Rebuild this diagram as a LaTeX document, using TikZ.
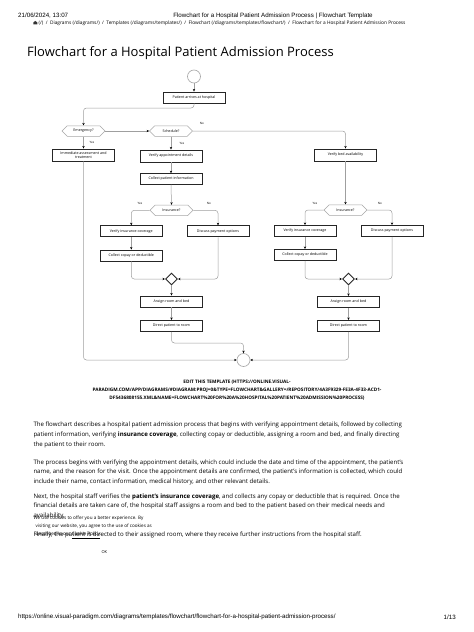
\documentclass[tikz,border=0pt]{standalone}
\usepackage{fontspec}
\setmainfont{Open Sans}
\newfontfamily\arialf{Liberation Sans}
\usetikzlibrary{shapes.symbols,shapes.geometric,arrows.meta,calc}
\begin{document}
\begin{tikzpicture}[x=1pt,y=-1pt,
  box/.style={draw=black!85, line width=0.9pt, fill=white, minimum width=62pt, minimum height=11pt, inner sep=0pt, font=\fontsize{3.6}{4.2}\selectfont, align=center},
  hex/.style={signal, signal to=west and east, signal pointer angle=90, draw=gray!70, line width=0.5pt, fill=white, minimum width=43pt, minimum height=10.5pt, inner sep=0pt, font=\fontsize{3.6}{4.2}\selectfont},
  term/.style={circle, draw=gray!70, line width=0.6pt, fill=white, minimum size=13pt, inner sep=0pt},
  merge/.style={diamond, draw=black!85, line width=0.9pt, fill=white, minimum size=12pt, inner sep=0pt},
  conn/.style={draw=gray!75, line width=0.5pt, rounded corners=3pt, -{Stealth[length=2.6pt,width=2.3pt,black]}},
  lab/.style={font=\fontsize{3}{3.5}\selectfont, inner sep=0pt},
  hdr/.style={font=\arialf\fontsize{6.2}{7}\selectfont, inner sep=0pt},
  para/.style={font=\fontsize{6.1}{7}\selectfont, inner sep=0pt, anchor=west},
  edit/.style={font=\bfseries\fontsize{4.7}{5.3}\selectfont, inner sep=0pt},
  cookie/.style={font=\fontsize{4.6}{5}\selectfont, inner sep=0pt, anchor=west}
]
\useasboundingbox (0,0) rectangle (474,632);
\fill[white] (0,0) rectangle (474,632);

% header
\node[hdr, anchor=west] (date) at (18,16) {21/06/2024, 13:07};
\node[hdr] (ptitle) at (273,16) {Flowchart for a Hospital Patient Admission Process | Flowchart Template};
\fill[black!80] (33.3,24.4) -- (33.3,22.5) -- (35.3,20.9) -- (37.3,22.5) -- (37.3,24.4) -- cycle;
\node[font=\fontsize{4.8}{5.5}\selectfont, inner sep=0pt, anchor=west] (crumb) at (38.5,23.5) {(/) \ / \ Diagrams (/diagrams/) \ / \ Templates (/diagrams/templates/) \ / \ Flowchart (/diagrams/templates/flowchart/) \ / \ Flowchart for a Hospital Patient Admission Process};
\node[font=\fontsize{13}{15}\selectfont, inner sep=0pt, anchor=west] (title) at (27,53.5) {Flowchart for a Hospital Patient Admission Process};

% flowchart nodes
\node[term] (start) at (194,76.5) {};
\node[box] (arrive) at (194,97.5) {Patient arrives at hospital};
\node[hex] (emerg) at (83.5,131) {Emergency?};
\node[hex] (sched) at (171,131) {Schedule?};
\node[box, minimum height=12pt] (immed) at (83.5,155) {Immediate assessment and\\treatment};
\node[box, minimum height=12pt] (appt) at (171,156) {Verify appointment details};
\node[box, minimum height=10.5pt] (collect) at (171,179) {Collect patient information};
\node[hex] (insA) at (171.5,210.3) {Insurance?};
\node[box] (vinsA) at (131.3,231.3) {Verify insurance coverage};
\node[box] (discA) at (218,231.3) {Discuss payment options};
\node[box] (copayA) at (131.3,255.5) {Collect copay or deductible};
\node[merge] (diaA) at (171.5,279) {};
\node[box] (assignA) at (171.5,301.5) {Assign room and bed};
\node[box] (directA) at (171.5,326) {Direct patient to room};

\node[box, minimum height=12pt] (bed) at (345.5,155) {Verify bed availability};
\node[hex] (insB) at (345.5,210) {Insurance?};
\node[box] (vinsB) at (305,231) {Verify insurance coverage};
\node[box] (discB) at (392,231) {Discuss payment options};
\node[box] (copayB) at (305,255) {Collect copay or deductible};
\node[merge] (diaB) at (348.5,279) {};
\node[box] (assignB) at (348.5,302) {Assign room and bed};
\node[box] (directB) at (348.5,326) {Direct patient to room};

\node[term] (endc) at (243.5,360) {};

% connectors
\coordinate (k1) at (194,108);
\coordinate (k2) at (171.5,343);
\draw[conn] (start) -- (arrive);
\draw[conn] (arrive.south) -- (k1) -| (emerg.north);
\draw[conn] (emerg.east) -- (sched.west);
\draw[conn] (sched.east) -| (bed.north);
\draw[conn] (emerg.south) -- (immed.north);
\draw[conn] (sched.south) -- (appt.north);
\draw[conn] (appt) -- (collect);
\draw[conn] (collect.south) -- (insA.north);
\draw[conn] (insA.west) -| (vinsA.north);
\draw[conn] (insA.east) -| (discA.north);
\draw[conn] (vinsA) -- (copayA);
\draw[conn] (copayA.south) |- (diaA.west);
\draw[conn] (discA.south) |- (diaA.east);
\draw[conn] (diaA) -- (assignA);
\draw[conn] (assignA) -- (directA);
\draw[conn] (directA.south) -- (k2) -| (endc.north);
\draw[conn] (immed.south) |- (endc.west);

\draw[conn] (bed.south) -- (insB.north);
\draw[conn] (insB.west) -| (vinsB.north);
\draw[conn] (insB.east) -| (discB.north);
\draw[conn] (vinsB) -- (copayB);
\draw[conn] (copayB.south) |- (diaB.west);
\draw[conn] (discB.south) |- (diaB.east);
\draw[conn] (diaB) -- (assignB);
\draw[conn] (assignB) -- (directB);
\draw[conn] (directB.south) |- (endc.east);

% labels
\node[lab] (l1) at (92,142) {Yes};
\node[lab] (l2) at (202,123) {No};
\node[lab] (l3) at (182,143) {Yes};
\node[lab] (l4) at (140,203) {Yes};
\node[lab] (l5) at (209,203) {No};
\node[lab] (l6) at (315,203) {Yes};
\node[lab] (l7) at (380,203) {No};

% edit link
\node[edit] (e1) at (237,382) {EDIT THIS TEMPLATE (HTTPS://ONLINE.VISUAL-};
\node[edit] (e2) at (237,390) {PARADIGM.COM/APP/DIAGRAMS/\#DIAGRAM:PROJ=0\&TYPE=FLOWCHART\&GALLERY=/REPOSITORY/4A3F9329-FE3A-4F33-ACD1-};
\node[edit] (e3) at (237,398) {DF5436808155.XML\&NAME=FLOWCHART\%20FOR\%20A\%20HOSPITAL\%20PATIENT\%20ADMISSION\%20PROCESS)};

% paragraphs
\node[para] (p11) at (33.3,424.5) {The flowchart describes a hospital patient admission process that begins with verifying appointment details, followed by collecting};
\node[para] (p12) at (33.3,435) {patient information, verifying \textbf{insurance coverage}, collecting copay or deductible, assigning a room and bed, and finally directing};
\node[para] (p13) at (33.3,445) {the patient to their room.};
\node[para] (p21) at (33.3,462.7) {The process begins with verifying the appointment details, which could include the date and time of the appointment, the patient’s};
\node[para] (p22) at (33.3,472.3) {name, and the reason for the visit. Once the appointment details are confirmed, the patient’s information is collected, which could};
\node[para] (p23) at (33.3,482.3) {include their name, contact information, medical history, and other relevant details.};
\node[para] (p31) at (33.3,496.7) {Next, the hospital staff verifies the \textbf{patient’s insurance coverage}, and collects any copay or deductible that is required. Once the};
\node[para] (p32) at (33.3,506.3) {financial details are taken care of, the hospital staff assigns a room and bed to the patient based on their medical needs and};
\node[para] (p33) at (33.3,516.3) {availability.};
\node[para] (p41) at (33.3,535.3) {Finally, the patient is directed to their assigned room, where they receive further instructions from the hospital staff.};

% cookie banner text (overlapping, as printed)
\node[cookie] (c1) at (33.3,518) {We use cookies to offer you a better experience. By};
\node[cookie] (c2) at (35.5,526.5) {visiting our website, you agree to the use of cookies as};
\node[cookie] (c3) at (35.5,535.3) {described in our \underline{Cookie Policy}.};
\node[font=\fontsize{4}{4.5}\selectfont, inner sep=0pt] (ok) at (104.3,552) {OK};

% footer
\node[hdr, anchor=west] (url) at (18,617) {https://online.visual-paradigm.com/diagrams/templates/flowchart/flowchart-for-a-hospital-patient-admission-process/};
\node[hdr, anchor=east] (pg) at (456,617) {1/13};
\end{tikzpicture}
\end{document}
